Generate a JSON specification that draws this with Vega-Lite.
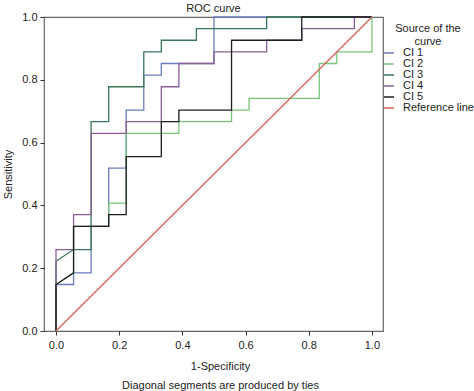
{
  "$schema": "https://vega.github.io/schema/vega-lite/v6.json",
  "width": 339,
  "height": 314,
  "autosize": {"type": "none"},
  "padding": {"left": 44, "top": 17, "right": 91, "bottom": 60},
  "background": "white",
  "title": {"text": "ROC curve", "fontSize": 11, "fontWeight": "normal", "font": "Liberation Sans", "color": "#222", "offset": -3},
  "config": {
    "view": {"stroke": "#666", "strokeWidth": 1.2},
    "font": "Liberation Sans",
    "axis": {"grid": false, "domain": false, "tickColor": "#333", "tickSize": 4, "labelFontSize": 11, "labelColor": "#222", "titleFontSize": 11, "titleFontWeight": "normal", "titleColor": "#222", "labelFont": "Liberation Sans", "titleFont": "Liberation Sans"}
  },
  "data": {"values": [
    {"curve": "CI 1", "o": 0, "x": 0, "y": 0},
    {"curve": "CI 1", "o": 1, "x": 0, "y": 0.1481},
    {"curve": "CI 1", "o": 2, "x": 0.0556, "y": 0.1481},
    {"curve": "CI 1", "o": 3, "x": 0.0556, "y": 0.1852},
    {"curve": "CI 1", "o": 4, "x": 0.1111, "y": 0.1852},
    {"curve": "CI 1", "o": 5, "x": 0.1111, "y": 0.3333},
    {"curve": "CI 1", "o": 6, "x": 0.1667, "y": 0.3333},
    {"curve": "CI 1", "o": 7, "x": 0.1667, "y": 0.5185},
    {"curve": "CI 1", "o": 8, "x": 0.2222, "y": 0.5185},
    {"curve": "CI 1", "o": 9, "x": 0.2222, "y": 0.7037},
    {"curve": "CI 1", "o": 10, "x": 0.2778, "y": 0.7037},
    {"curve": "CI 1", "o": 11, "x": 0.2778, "y": 0.8148},
    {"curve": "CI 1", "o": 12, "x": 0.3333, "y": 0.8148},
    {"curve": "CI 1", "o": 13, "x": 0.3333, "y": 0.8519},
    {"curve": "CI 1", "o": 14, "x": 0.5, "y": 0.8519},
    {"curve": "CI 1", "o": 15, "x": 0.5, "y": 1},
    {"curve": "CI 1", "o": 16, "x": 1, "y": 1},

    {"curve": "CI 2", "o": 0, "x": 0, "y": 0},
    {"curve": "CI 2", "o": 1, "x": 0, "y": 0.1481},
    {"curve": "CI 2", "o": 2, "x": 0.0556, "y": 0.1852},
    {"curve": "CI 2", "o": 3, "x": 0.0556, "y": 0.3333},
    {"curve": "CI 2", "o": 4, "x": 0.1667, "y": 0.3333},
    {"curve": "CI 2", "o": 5, "x": 0.1667, "y": 0.4074},
    {"curve": "CI 2", "o": 6, "x": 0.2222, "y": 0.4074},
    {"curve": "CI 2", "o": 7, "x": 0.2222, "y": 0.6296},
    {"curve": "CI 2", "o": 8, "x": 0.3889, "y": 0.6296},
    {"curve": "CI 2", "o": 9, "x": 0.3889, "y": 0.6667},
    {"curve": "CI 2", "o": 10, "x": 0.5556, "y": 0.6667},
    {"curve": "CI 2", "o": 11, "x": 0.5556, "y": 0.7037},
    {"curve": "CI 2", "o": 12, "x": 0.6111, "y": 0.7037},
    {"curve": "CI 2", "o": 13, "x": 0.6111, "y": 0.7407},
    {"curve": "CI 2", "o": 14, "x": 0.8333, "y": 0.7407},
    {"curve": "CI 2", "o": 15, "x": 0.8333, "y": 0.8519},
    {"curve": "CI 2", "o": 16, "x": 0.8889, "y": 0.8519},
    {"curve": "CI 2", "o": 17, "x": 0.8889, "y": 0.8889},
    {"curve": "CI 2", "o": 18, "x": 1, "y": 0.8889},
    {"curve": "CI 2", "o": 19, "x": 1, "y": 1},

    {"curve": "CI 3", "o": 0, "x": 0, "y": 0},
    {"curve": "CI 3", "o": 1, "x": 0, "y": 0.2222},
    {"curve": "CI 3", "o": 2, "x": 0.0556, "y": 0.2593},
    {"curve": "CI 3", "o": 3, "x": 0.1111, "y": 0.2593},
    {"curve": "CI 3", "o": 4, "x": 0.1111, "y": 0.6667},
    {"curve": "CI 3", "o": 5, "x": 0.1667, "y": 0.6667},
    {"curve": "CI 3", "o": 6, "x": 0.1667, "y": 0.7778},
    {"curve": "CI 3", "o": 7, "x": 0.2778, "y": 0.7778},
    {"curve": "CI 3", "o": 8, "x": 0.2778, "y": 0.8889},
    {"curve": "CI 3", "o": 9, "x": 0.3333, "y": 0.8889},
    {"curve": "CI 3", "o": 10, "x": 0.3333, "y": 0.9259},
    {"curve": "CI 3", "o": 11, "x": 0.4444, "y": 0.9259},
    {"curve": "CI 3", "o": 12, "x": 0.4444, "y": 0.963},
    {"curve": "CI 3", "o": 13, "x": 0.6667, "y": 0.963},
    {"curve": "CI 3", "o": 14, "x": 0.6667, "y": 1},
    {"curve": "CI 3", "o": 15, "x": 1, "y": 1},

    {"curve": "CI 4", "o": 0, "x": 0, "y": 0},
    {"curve": "CI 4", "o": 1, "x": 0, "y": 0.2593},
    {"curve": "CI 4", "o": 2, "x": 0.0556, "y": 0.2593},
    {"curve": "CI 4", "o": 3, "x": 0.0556, "y": 0.3704},
    {"curve": "CI 4", "o": 4, "x": 0.1111, "y": 0.3704},
    {"curve": "CI 4", "o": 5, "x": 0.1111, "y": 0.6296},
    {"curve": "CI 4", "o": 6, "x": 0.2222, "y": 0.6296},
    {"curve": "CI 4", "o": 7, "x": 0.2222, "y": 0.6667},
    {"curve": "CI 4", "o": 8, "x": 0.3333, "y": 0.6667},
    {"curve": "CI 4", "o": 9, "x": 0.3333, "y": 0.7778},
    {"curve": "CI 4", "o": 10, "x": 0.3889, "y": 0.7778},
    {"curve": "CI 4", "o": 11, "x": 0.3889, "y": 0.8519},
    {"curve": "CI 4", "o": 12, "x": 0.5, "y": 0.8519},
    {"curve": "CI 4", "o": 13, "x": 0.5, "y": 0.8889},
    {"curve": "CI 4", "o": 14, "x": 0.6667, "y": 0.8889},
    {"curve": "CI 4", "o": 15, "x": 0.6667, "y": 0.9259},
    {"curve": "CI 4", "o": 16, "x": 0.7778, "y": 0.9259},
    {"curve": "CI 4", "o": 17, "x": 0.7778, "y": 0.963},
    {"curve": "CI 4", "o": 18, "x": 0.9444, "y": 0.963},
    {"curve": "CI 4", "o": 19, "x": 0.9444, "y": 1},
    {"curve": "CI 4", "o": 20, "x": 1, "y": 1},

    {"curve": "CI 5", "o": 0, "x": 0, "y": 0},
    {"curve": "CI 5", "o": 1, "x": 0, "y": 0.1481},
    {"curve": "CI 5", "o": 2, "x": 0.0556, "y": 0.1852},
    {"curve": "CI 5", "o": 3, "x": 0.0556, "y": 0.3333},
    {"curve": "CI 5", "o": 4, "x": 0.1667, "y": 0.3333},
    {"curve": "CI 5", "o": 5, "x": 0.1667, "y": 0.3704},
    {"curve": "CI 5", "o": 6, "x": 0.2222, "y": 0.3704},
    {"curve": "CI 5", "o": 7, "x": 0.2222, "y": 0.5556},
    {"curve": "CI 5", "o": 8, "x": 0.3333, "y": 0.5556},
    {"curve": "CI 5", "o": 9, "x": 0.3333, "y": 0.6667},
    {"curve": "CI 5", "o": 10, "x": 0.3889, "y": 0.6667},
    {"curve": "CI 5", "o": 11, "x": 0.3889, "y": 0.7037},
    {"curve": "CI 5", "o": 12, "x": 0.5556, "y": 0.7037},
    {"curve": "CI 5", "o": 13, "x": 0.5556, "y": 0.9259},
    {"curve": "CI 5", "o": 14, "x": 0.7778, "y": 0.9259},
    {"curve": "CI 5", "o": 15, "x": 0.7778, "y": 1},
    {"curve": "CI 5", "o": 16, "x": 1, "y": 1},

    {"curve": "Reference line", "o": 0, "x": 0, "y": 0},
    {"curve": "Reference line", "o": 1, "x": 1, "y": 1}
  ]},
  "mark": {"type": "line", "strokeWidth": 1.3, "interpolate": "linear"},
  "encoding": {
    "x": {"field": "x", "type": "quantitative",
      "scale": {"domain": [-0.038, 1.035], "nice": false, "zero": false},
      "axis": {"values": [0, 0.2, 0.4, 0.6, 0.8, 1], "format": ".1f", "labelPadding": 4, "titlePadding": 10, "title": ["1-Specificity", "Diagonal segments are produced by ties"], "titleLineHeight": 19, "titleX": 176}},
    "y": {"field": "y", "type": "quantitative",
      "scale": {"domain": [0, 1], "nice": false, "zero": false},
      "axis": {"values": [0, 0.2, 0.4, 0.6, 0.8, 1], "format": ".1f", "labelPadding": 3, "title": "Sensitivity", "titlePadding": 8}},
    "order": {"field": "o", "type": "quantitative"},
    "color": {"field": "curve", "type": "nominal",
      "scale": {"domain": ["CI 1", "CI 2", "CI 3", "CI 4", "CI 5", "Reference line"],
                "range": ["#6a7dbf", "#78c47a", "#3b7757", "#8a5e96", "#1e1e1e", "#d9605a"]},
      "legend": {"orient": "none", "legendX": 339, "legendY": 6, "title": ["Source of the", "curve"],
        "titleFontSize": 11, "titleFontWeight": "normal", "titleColor": "#222", "titleAlign": "center", "titleAnchor": "middle", "titleLineHeight": 13, "titlePadding": 0,
        "labelFontSize": 11, "labelColor": "#222", "labelOffset": 8, "symbolType": "stroke", "symbolSize": 100, "symbolStrokeWidth": 1.5, "rowPadding": 0, "padding": 0}}
  }
}
